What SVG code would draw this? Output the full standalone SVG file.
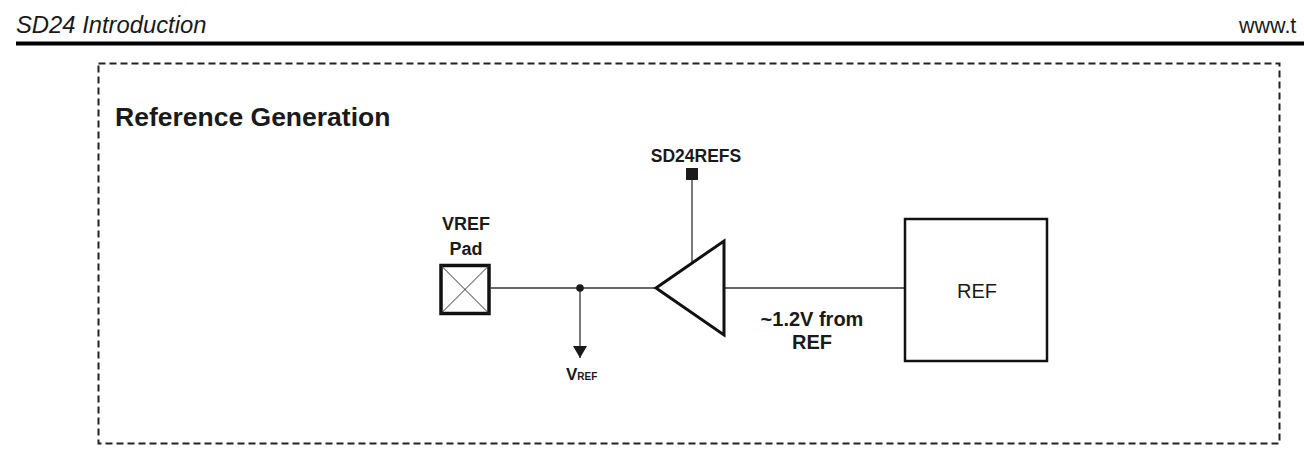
<svg xmlns="http://www.w3.org/2000/svg" width="1304" height="466" viewBox="0 0 1304 466">
<defs>
<style>
text{font-family:"Liberation Sans",Arial,sans-serif;fill:#1a1a1a}
.b{font-weight:bold}
.w{stroke:#333;stroke-width:1.3;fill:none}
</style>
<marker id="ah" viewBox="0 0 12 14" refX="12" refY="7" markerWidth="12" markerHeight="14" markerUnits="userSpaceOnUse" orient="auto">
<path d="M0,0 L12,7 L0,14 Z" fill="#1a1a1a"/>
</marker>
</defs>
<rect width="1304" height="466" fill="#fff"/>
<g id="header">
<text x="16" y="33" font-size="23.8" font-style="italic">SD24 Introduction</text>
<text x="1239" y="33" font-size="21.5">www.t</text>
<rect x="16" y="41.5" width="1288" height="4" fill="#000"/>
</g>
<g id="frame">
<rect x="98.5" y="63.5" width="1181" height="380" fill="none" stroke="#222" stroke-width="2" stroke-dasharray="7,4"/>
<text x="115" y="126" font-size="26.5" class="b">Reference Generation</text>
</g>
<g id="connectors">
<line class="w" x1="491" y1="288" x2="656" y2="288"/>
<line class="w" x1="580" y1="288" x2="580" y2="358" marker-end="url(#ah)"/>
<circle cx="580" cy="288" r="3.8" fill="#1a1a1a"/>
<line class="w" x1="692" y1="180" x2="692" y2="263"/>
<line class="w" x1="724" y1="288" x2="904" y2="288"/>
</g>
<g id="pad">
<rect x="441" y="265.5" width="48" height="48" fill="#fff" stroke="#111" stroke-width="3.5"/>
<path d="M441,265.5 L489,313.5 M489,265.5 L441,313.5" stroke="#333" stroke-width="1"/>
<text x="466" y="230" font-size="18" class="b" text-anchor="middle">VREF</text>
<text x="466" y="255" font-size="18" class="b" text-anchor="middle">Pad</text>
</g>
<g id="vref-out">
<text x="566" y="380" font-size="17" class="b">V<tspan font-size="10">REF</tspan></text>
</g>
<g id="buffer">
<polygon points="656,288 724,241 724,335" fill="#fff" stroke="#111" stroke-width="3"/>
</g>
<g id="sd24refs">
<rect x="686" y="168" width="12" height="12" fill="#1a1a1a"/>
<text x="696" y="162" font-size="17.5" class="b" text-anchor="middle">SD24REFS</text>
</g>
<g id="ref">
<rect x="905" y="219" width="142" height="142" fill="#fff" stroke="#111" stroke-width="2.5"/>
<text x="977" y="298" font-size="20" text-anchor="middle">REF</text>
</g>
<g id="label">
<text x="812" y="326" font-size="20" class="b" text-anchor="middle">~1.2V from</text>
<text x="812" y="349" font-size="20" class="b" text-anchor="middle">REF</text>
</g>
</svg>
